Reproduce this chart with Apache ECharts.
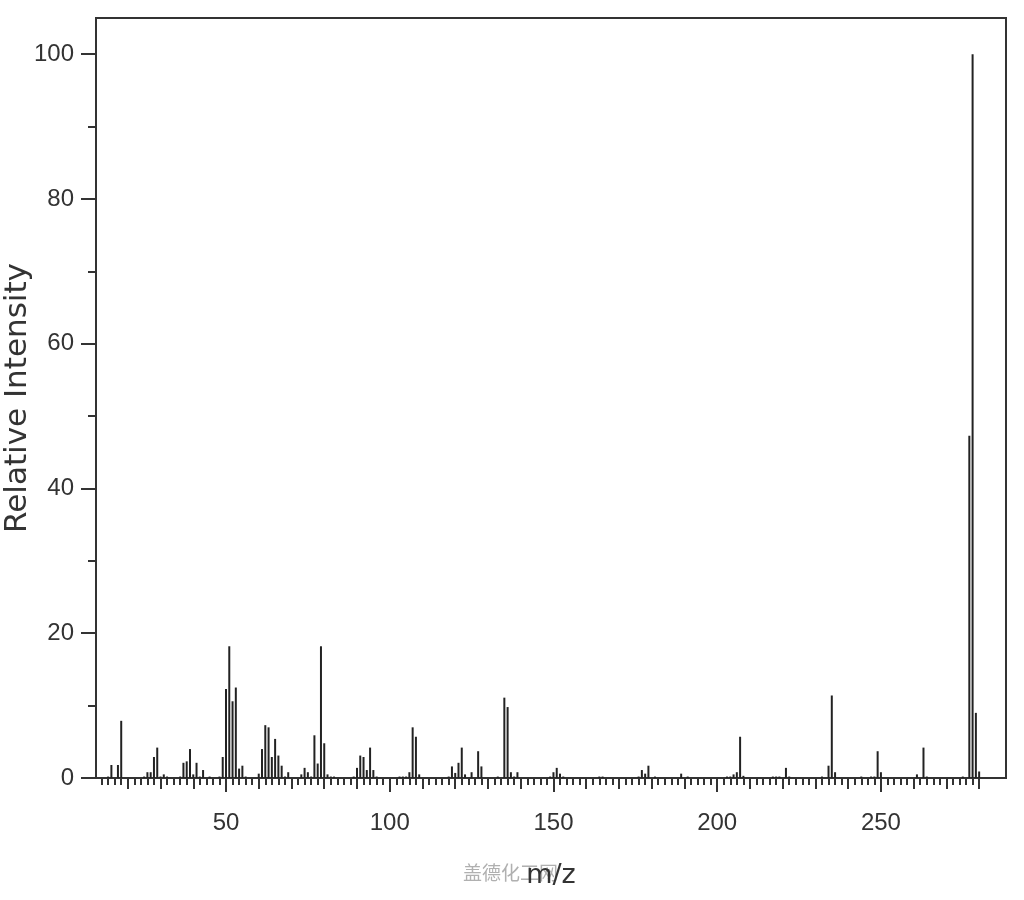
<!DOCTYPE html>
<html>
<head>
<meta charset="utf-8">
<script src="https://cdn.jsdelivr.net/npm/echarts@6/dist/echarts.min.js"></script>
<style>
  html, body { margin: 0; padding: 0; background: #fff; }
  #chart { width: 1024px; height: 900px; }
</style>
</head>
<body>
<div id="chart"></div>
<script>
// m/z values and relative intensities
const mz = [14, 15, 17, 18, 25, 26, 27, 28, 29, 30, 31, 32, 36, 37, 38, 39, 40, 41, 42, 43, 45, 48, 49,
  50, 51, 52, 53, 54, 55, 56, 60, 61, 62, 63, 64, 65, 66, 67, 68, 69, 73, 74, 75, 76, 77, 78, 79, 80, 81, 82, 83,
  89, 90, 91, 92, 93, 94, 95, 96, 103, 104, 105, 106, 107, 108, 109, 118, 119, 120, 121, 122, 123, 125, 127, 128,
  133, 135, 136, 137, 138, 139, 149, 150, 151, 152, 153, 164, 165, 176, 177, 178, 179, 181, 189, 191,
  203, 204, 205, 206, 207, 208, 217, 218, 219, 221, 222, 232, 234, 235, 236, 244, 247, 248, 249, 250,
  261, 263, 264, 275, 277, 278, 279, 280]
const intensity = [0.2, 1.8, 1.8, 7.9, 0.2, 0.8, 0.8, 2.9, 4.2, 0.2, 0.5, 0.2, 0.2, 2.1, 2.3, 4.0, 0.5, 2.1, 0.2, 1.1, 0.2, 0.2, 2.9,
  12.3, 18.2, 10.6, 12.5, 1.3, 1.7, 0.2, 0.6, 4.0, 7.3, 7.0, 2.9, 5.4, 3.1, 1.7, 0.2, 0.8, 0.5, 1.4, 0.8, 0.2, 5.9, 2.0, 18.2, 4.8, 0.5, 0.2, 0.2,
  0.2, 1.4, 3.1, 2.9, 1.1, 4.2, 1.1, 0.2, 0.2, 0.2, 0.2, 0.8, 7.0, 5.7, 0.5, 0.2, 1.6, 0.7, 2.1, 4.2, 0.5, 0.8, 3.7, 1.6,
  0.2, 11.1, 9.8, 0.8, 0.2, 0.8, 0.2, 0.8, 1.4, 0.6, 0.2, 0.2, 0.2, 0.2, 1.1, 0.6, 1.7, 0.2, 0.6, 0.2,
  0.2, 0.2, 0.5, 0.8, 5.7, 0.3, 0.2, 0.2, 0.2, 1.4, 0.2, 0.2, 1.7, 11.4, 0.8, 0.2, 0.2, 0.2, 3.7, 0.8,
  0.5, 4.2, 0.2, 0.2, 47.3, 100, 9.0, 0.9]

// tick labels
const xLabels = [50, 100, 150, 200, 250]
const yLabels = [0, 20, 40, 60, 80, 100]
const yMinorTicks = [10, 30, 50, 70, 90]
const xTenTicks = []
for (let v = 20; v <= 280; v += 10) xTenTicks.push(v)
const xEvenTicks = []
for (let v = 12; v <= 280; v += 2) xEvenTicks.push(v)

const chart = echarts.init(document.getElementById('chart'))

const textFont = "'Liberation Sans', 'DejaVu Sans', sans-serif"
const lineColor = '#333'

// shared x range so the overlay axes line up
const xMin = 10.3
const xMax = 288.2

const option = {
  animation: false,
  backgroundColor: '#fff',
  grid: {
    left: 96,
    right: 18,
    top: 18,
    bottom: 122,
    outerBoundsMode: 'none',
    containLabel: false,
    show: true,
    borderColor: lineColor,
    borderWidth: 2
  },
  xAxis: [
    {
      type: 'value',
      position: 'bottom',
      min: xMin,
      max: xMax,
      name: 'm/z',
      nameLocation: 'middle',
      nameGap: 84,
      nameMoveOverlap: false,
      nameTextStyle: { fontFamily: 'DejaVu Sans', fontSize: 27, color: '#333' },
      axisLine: { show: true, lineStyle: { color: lineColor, width: 2 } },
      axisTick: { show: true, customValues: xTenTicks, length: 11, lineStyle: { color: lineColor, width: 2 } },
      axisLabel: {
        customValues: xLabels,
        margin: 33,
        fontFamily: textFont,
        fontSize: 24,
        color: '#333'
      },
      splitLine: { show: false }
    },
    {
      type: 'value',
      position: 'bottom',
      min: xMin,
      max: xMax,
      axisLine: { show: false },
      axisTick: { show: true, customValues: xEvenTicks, length: 7, lineStyle: { color: lineColor, width: 2 } },
      axisLabel: { show: false },
      splitLine: { show: false }
    },
    {
      type: 'value',
      position: 'bottom',
      min: xMin,
      max: xMax,
      axisLine: { show: false },
      axisTick: { show: true, customValues: xLabels, length: 14, lineStyle: { color: lineColor, width: 2 } },
      axisLabel: { show: false },
      splitLine: { show: false }
    }
  ],
  yAxis: [
    {
      type: 'value',
      position: 'left',
      min: 0,
      max: 105,
      name: 'Relative Intensity',
      nameLocation: 'middle',
      nameGap: 63,
      nameMoveOverlap: false,
      nameRotate: 90,
      nameTextStyle: { fontFamily: 'DejaVu Sans', fontSize: 31, color: '#333' },
      axisLine: { show: true, lineStyle: { color: lineColor, width: 2 } },
      axisTick: { show: true, customValues: yLabels, length: 15, lineStyle: { color: lineColor, width: 2 } },
      axisLabel: {
        customValues: yLabels,
        margin: 22,
        fontFamily: textFont,
        fontSize: 24,
        color: '#333'
      },
      splitLine: { show: false }
    },
    {
      type: 'value',
      position: 'left',
      min: 0,
      max: 105,
      axisLine: { show: false },
      axisTick: { show: true, customValues: yMinorTicks, length: 8, lineStyle: { color: lineColor, width: 2 } },
      axisLabel: { show: false },
      splitLine: { show: false }
    }
  ],
  graphic: [
    {
      type: 'text',
      left: 463,
      top: 863,
      z: -1,
      style: {
        text: '盖德化工网',
        fontFamily: "'Noto Sans CJK SC'",
        fontSize: 19,
        fill: '#b0b0b0'
      }
    }
  ],
  series: [
    {
      type: 'bar',
      xAxisIndex: 0,
      yAxisIndex: 0,
      barWidth: 2,
      itemStyle: { color: '#222' },
      data: mz.map((m, i) => [m, intensity[i]])
    }
  ]
}

chart.setOption(option)
</script>
</body>
</html>
